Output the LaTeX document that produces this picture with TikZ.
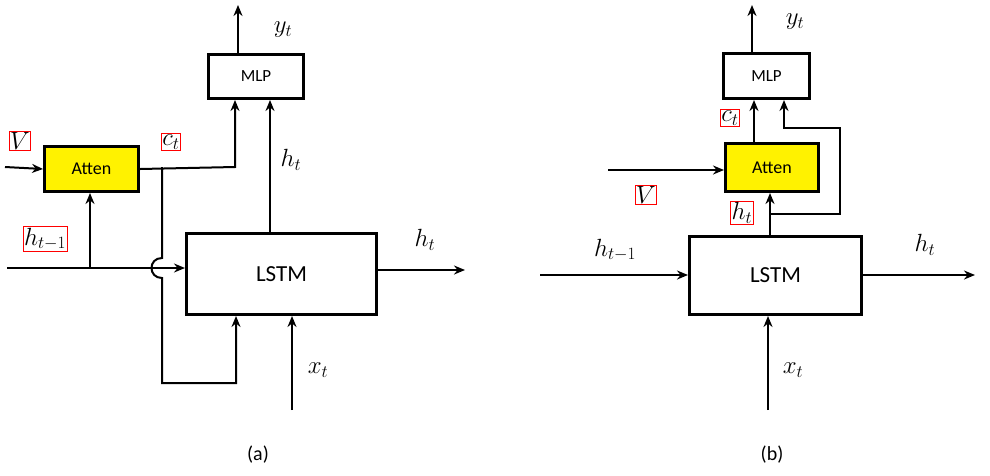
\documentclass[tikz,border=0pt]{standalone}
\usepackage{fontspec}
\setmainfont{Carlito}
\usetikzlibrary{arrows.meta}
\begin{document}
\begin{tikzpicture}[x=1pt,y=-1pt,
  box/.style={draw,line width=3pt,inner sep=0,anchor=north west},
  ln/.style={line width=2pt},
  arr/.style={ln,-{Stealth[length=11pt,width=9pt]}},
  lab/.style={font=\fontsize{26}{26}\selectfont,inner sep=1pt},
  rl/.style={lab,draw=red,line width=0.8pt},
  captxt/.style={font=\fontsize{20}{20}\selectfont}]
\useasboundingbox (0,0) rectangle (990,475);
% ---------- (a)
\node[box,minimum width=95,minimum height=44,font=\fontsize{17}{17}\selectfont] (mlpa) at (207,53) {MLP};
\node[box,fill=yellow,minimum width=94,minimum height=45,font=\fontsize{18}{18}\selectfont] (atta) at (43,145) {Atten};
\node[box,minimum width=190,minimum height=81,font=\fontsize{23}{23}\selectfont] (lstma) at (185,232) {LSTM};
\coordinate (ya) at (238,5);
\draw[arr] (mlpa.north -| ya) -- (ya);
\node[lab] (yta) at (283,30) {$y_t$};
\coordinate (va) at (5,167);
\draw[arr] (va) -- (atta.west);
\node[rl] (Va) at (20,141) {$V$};
\node[rl] (cta) at (171,142) {$c_t$};
\coordinate (ca) at (235,167);
\draw[arr] (atta.east) -- (ca) -- (ca |- mlpa.south);
\coordinate (hin) at (7,268);
\draw[arr] (hin) -- (lstma.west |- hin);
\node[rl] (hta1) at (45,239) {$h_{t-1}$};
\coordinate (hb) at (90,268);
\draw[arr] (hb) -- (hb |- atta.south);
\coordinate (c1) at (162,167);
\coordinate (c2) at (162,258);
\coordinate (c3) at (162,278);
\coordinate (c4) at (162,383);
\coordinate (c5) at (236,383);
\draw[arr] (c1) -- (c2) .. controls (148,258) and (148,278) .. (c3) -- (c4) -- (c5) -- (c5 |- lstma.south);
\coordinate (hta) at (270,232);
\draw[arr] (hta) -- (hta |- mlpa.south);
\node[lab] (htla) at (291,160) {$h_t$};
\coordinate (houta) at (465,270);
\draw[arr] (lstma.east |- houta) -- (houta);
\node[lab] (htoa) at (425,240) {$h_t$};
\coordinate (xa) at (292,410);
\draw[arr] (xa) -- (xa |- lstma.south);
\node[lab] (xta) at (318,370) {$x_t$};
\node[captxt] (capa) at (258,455) {(a)};
% ---------- (b)
\node[box,minimum width=86,minimum height=45,font=\fontsize{17}{17}\selectfont] (mlpb) at (722,52) {MLP};
\node[box,fill=yellow,minimum width=93,minimum height=48,font=\fontsize{18}{18}\selectfont] (attb) at (724,142) {Atten};
\node[box,minimum width=172,minimum height=78,font=\fontsize{23}{23}\selectfont] (lstmb) at (688,235) {LSTM};
\coordinate (yb) at (752,5);
\draw[arr] (mlpb.north -| yb) -- (yb);
\node[lab] (ytb) at (795,22) {$y_t$};
\coordinate (cb) at (754,142);
\draw[arr] (cb) -- (cb |- mlpb.south);
\node[rl] (ctb) at (730,118) {$c_t$};
\coordinate (vb) at (608,170);
\draw[arr] (vb) -- (attb.west |- vb);
\node[rl] (Vb) at (646,195) {$V$};
\coordinate (hb1) at (770,235);
\coordinate (hb2) at (770,214);
\draw[arr] (hb1) -- (hb1 |- attb.south);
\coordinate (hb3) at (840,214);
\coordinate (hb4) at (840,128);
\coordinate (hb5) at (784,128);
\draw[arr] (hb2) -- (hb3) -- (hb4) -- (hb5) -- (hb5 |- mlpb.south);
\node[rl] (htb) at (742,213) {$h_t$};
\coordinate (hinb) at (540,275);
\draw[arr] (hinb) -- (lstmb.west |- hinb);
\node[lab] (htb1) at (615,250) {$h_{t-1}$};
\coordinate (houtb) at (975,275);
\draw[arr] (lstmb.east |- houtb) -- (houtb);
\node[lab] (htob) at (925,245) {$h_t$};
\coordinate (xb) at (768,410);
\draw[arr] (xb) -- (xb |- lstmb.south);
\node[lab] (xtb) at (793,370) {$x_t$};
\node[captxt] (capb) at (772,455) {(b)};
\end{tikzpicture}
\end{document}
